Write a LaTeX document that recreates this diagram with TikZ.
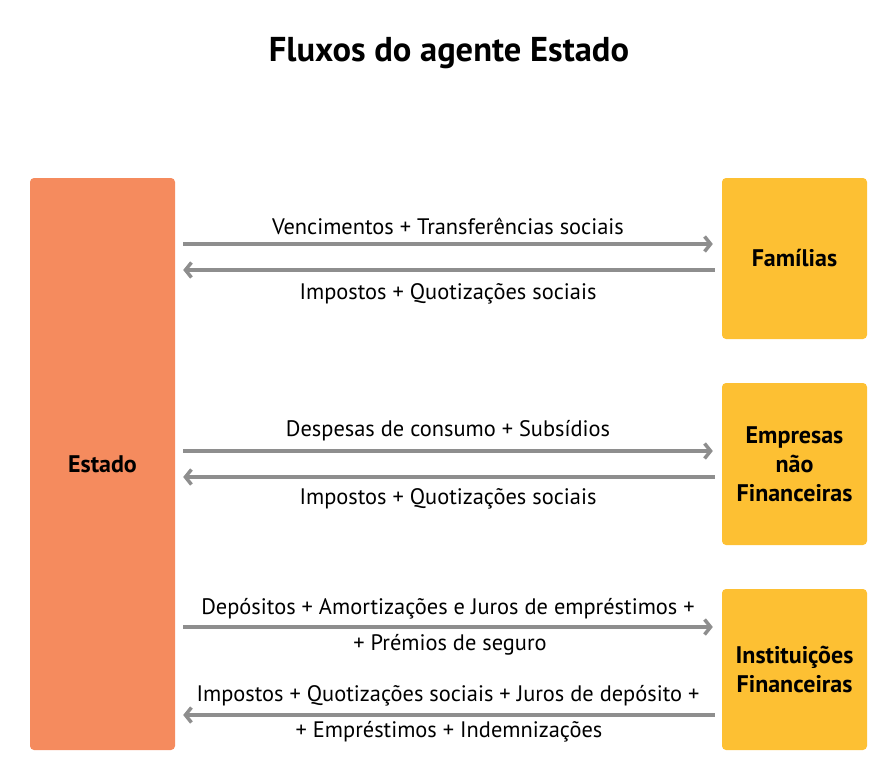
\documentclass[tikz,border=0pt]{standalone}
\usepackage{fontspec}
\setmainfont{PT Sans}
\usetikzlibrary{arrows.meta}

\definecolor{estadocor}{HTML}{F58B5E}
\definecolor{agentecor}{HTML}{FDC033}
\definecolor{fluxocor}{HTML}{8E8E8E}

\tikzset{
  agente/.style={rectangle, rounded corners=4pt, minimum width=145pt,
    inner sep=0pt, align=center, font=\bfseries\fontsize{24}{29}\selectfont},
  fluxo/.style={draw=fluxocor, line width=4.5pt,
    -{Straight Barb[length=6pt,width=15pt,line width=3.5pt]}},
  rotulo/.style={inner sep=0pt, font=\fontsize{22.4}{26}\selectfont}
}

\begin{document}
\begin{tikzpicture}[x=1pt,y=-1pt]
  \useasboundingbox (0,0) rectangle (894,781);

  \node[font=\bfseries\fontsize{34.5}{40}\selectfont] (titulo) at (449,53) {Fluxos do agente Estado};

  % agentes
  \node[agente, fill=estadocor, minimum height=572pt] (estado) at (102.5,464) {Estado};
  \node[agente, fill=agentecor, minimum height=161pt] (familias) at (794.5,258.5) {Famílias};
  \node[agente, fill=agentecor, minimum height=162pt] (empresas) at (794.5,464) {Empresas\\não\\Financeiras};
  \node[agente, fill=agentecor, minimum height=161pt] (instituicoes) at (794.5,669.5) {Instituições\\Financeiras};

  % alturas dos fluxos
  \coordinate (f1) at (0,244);
  \coordinate (f2) at (0,270);
  \coordinate (f3) at (0,451);
  \coordinate (f4) at (0,477);
  \coordinate (f5) at (0,627);
  \coordinate (f6) at (0,715);

  \draw[fluxo, shorten <=8pt, shorten >=9pt] (estado.east |- f1) -- (familias.west |- f1);
  \draw[fluxo, shorten <=7pt, shorten >=8pt] (familias.west |- f2) -- (estado.east |- f2);
  \draw[fluxo, shorten <=8pt, shorten >=9pt] (estado.east |- f3) -- (empresas.west |- f3);
  \draw[fluxo, shorten <=7pt, shorten >=8pt] (empresas.west |- f4) -- (estado.east |- f4);
  \draw[fluxo, shorten <=8pt, shorten >=9pt] (estado.east |- f5) -- (instituicoes.west |- f5);
  \draw[fluxo, shorten <=7pt, shorten >=8pt] (instituicoes.west |- f6) -- (estado.east |- f6);

  % rotulos
  \node[rotulo] (r1) at (448,226) {Vencimentos + Transferências sociais};
  \node[rotulo] (r2) at (448,294) {Impostos + Quotizações sociais};
  \node[rotulo] (r3) at (448,431) {Despesas de consumo + Subsídios};
  \node[rotulo] (r4) at (448,499) {Impostos + Quotizações sociais};
  \node[rotulo] (r5) at (448,609) {Depósitos + Amortizações e Juros de empréstimos +};
  \node[rotulo] (r6) at (450,645) {+ Prémios de seguro};
  \node[rotulo] (r7) at (448,696) {Impostos + Quotizações sociais + Juros de depósito +};
  \node[rotulo] (r8) at (449,732) {+ Empréstimos + Indemnizações};
\end{tikzpicture}
\end{document}
